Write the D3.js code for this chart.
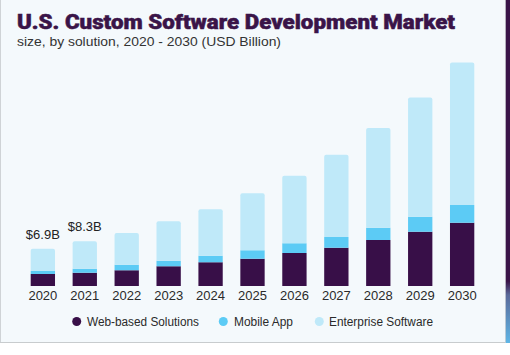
<!DOCTYPE html>
<html>
<head>
<meta charset="utf-8">
<script src="https://cdn.jsdelivr.net/npm/d3@7"></script>
<style>
  html, body { margin: 0; padding: 0; background: #ffffff; }
  svg { display: block; }
</style>
</head>
<body>
<svg id="chart" width="510" height="355"></svg>
<script>
// ---- data ----
const years = ["2020","2021","2022","2023","2024","2025","2026","2027","2028","2029","2030"];
const webBased = [2.22, 2.46, 2.90, 3.65, 4.39, 5.06, 6.10, 7.10, 8.50, 10.06, 11.70];
const mobileApp = [0.56, 0.74, 1.04, 1.04, 1.22, 1.55, 1.80, 1.98, 2.28, 2.78, 3.28];
const enterprise = [4.12, 5.10, 5.86, 7.31, 8.59, 10.56, 12.50, 15.22, 18.48, 22.06, 26.42];
const seriesNames = ["Web-based Solutions", "Mobile App", "Enterprise Software"];
const seriesColors = ["#380f48", "#5ccbf5", "#bfe9f9"];
const valueLabels = [{year: "2020", text: "$6.9B"}, {year: "2021", text: "$8.3B"}];
const titleText = "U.S. Custom Software Development Market";
const subtitleText = "size, by solution, 2020 - 2030 (USD Billion)";

// ---- build ----
const svg = d3.select("#chart");

// background panel
svg.append("rect").attr("x", 0).attr("y", 0).attr("width", 506).attr("height", 342).attr("fill", "#f4f9fc");
svg.append("line").attr("x1", 0.5).attr("x2", 0.5).attr("y1", 0).attr("y2", 342.5).attr("stroke", "#cfd3d6");
svg.append("line").attr("x1", 0).attr("x2", 506).attr("y1", 342.5).attr("y2", 342.5).attr("stroke", "#c8ccce");

// right strip
const defs = svg.append("defs");
const grad = defs.append("linearGradient").attr("id", "strip").attr("x1", 0).attr("x2", 0).attr("y1", 0).attr("y2", 1);
grad.append("stop").attr("offset", "0").attr("stop-color", "#3a1448");
grad.append("stop").attr("offset", "0.82").attr("stop-color", "#3a1448");
grad.append("stop").attr("offset", "0.86").attr("stop-color", "#5a6a9a");
grad.append("stop").attr("offset", "1").attr("stop-color", "#5fb6e6");
svg.append("rect").attr("x", 505).attr("y", 0).attr("width", 5).attr("height", 343).attr("fill", "url(#strip)");
svg.append("line").attr("x1", 505.5).attr("x2", 505.5).attr("y1", 0).attr("y2", 343).attr("stroke", "#d0d4d8").attr("stroke-width", 0.8);

// title
svg.append("text").attr("x", 17).attr("y", 28.5)
  .attr("font-family", "Roboto, 'Liberation Sans', Arial, sans-serif")
  .attr("font-weight", 900).attr("font-size", 20).attr("fill", "#3a1448")
  .attr("stroke", "#3a1448").attr("stroke-width", 0.5)
  .attr("textLength", 438).attr("lengthAdjust", "spacingAndGlyphs")
  .text(titleText);
svg.append("text").attr("x", 17).attr("y", 46)
  .attr("font-family", "'Liberation Sans', Arial, sans-serif")
  .attr("font-size", 13).attr("fill", "#333")
  .attr("textLength", 264).attr("lengthAdjust", "spacingAndGlyphs")
  .text(subtitleText);

// scales
const baseY = 286;
const x = d3.scaleBand().domain(years).range([30.7, 474.3]).paddingInner(0.42).paddingOuter(0);
const y = d3.scaleLinear().domain([0, 45]).range([baseY, baseY - 5.4 * 45]);
const color = d3.scaleOrdinal().domain(seriesNames).range(seriesColors);

const table = years.map((yr, i) => ({year: yr, [seriesNames[0]]: webBased[i], [seriesNames[1]]: mobileApp[i], [seriesNames[2]]: enterprise[i]}));
const stacked = d3.stack().keys(seriesNames)(table);

const g = svg.append("g");
stacked.forEach((layer, li) => {
  g.selectAll(null).data(layer).enter().append("path")
    .attr("fill", color(layer.key))
    .attr("d", d => {
      const x0 = x(d.data.year), w = x.bandwidth();
      const yTop = y(d[1]), yBot = y(d[0]);
      const r = li === stacked.length - 1 ? 2 : 0;
      return `M${x0},${yBot}L${x0},${yTop + r}Q${x0},${yTop} ${x0 + r},${yTop}L${x0 + w - r},${yTop}Q${x0 + w},${yTop} ${x0 + w},${yTop + r}L${x0 + w},${yBot}Z`;
    });
});

// axis
const axis = svg.append("g").attr("transform", `translate(0,${baseY})`)
  .call(d3.axisBottom(x).tickSize(0).tickPadding(5));
axis.select(".domain").remove();
axis.selectAll("text").attr("font-family", "'Liberation Sans', Arial, sans-serif").attr("font-size", 13).attr("fill", "#2a2a2a");

// value labels
const totals = years.map((yr, i) => webBased[i] + mobileApp[i] + enterprise[i]);
valueLabels.forEach(v => {
  const i = years.indexOf(v.year);
  svg.append("text").attr("x", x(v.year) + x.bandwidth() / 2).attr("y", y(totals[i]) - 10)
    .attr("text-anchor", "middle")
    .attr("font-family", "'Liberation Sans', Arial, sans-serif")
    .attr("font-size", 13).attr("fill", "#222").text(v.text);
});

// legend
const legendPos = [{cx: 76.7, tx: 87, w: 112}, {cx: 223.3, tx: 234, w: 59}, {cx: 319.3, tx: 329, w: 104}];
seriesNames.forEach((name, i) => {
  svg.append("circle").attr("cx", legendPos[i].cx).attr("cy", 321.5).attr("r", 4.5).attr("fill", seriesColors[i]);
  svg.append("text").attr("x", legendPos[i].tx).attr("y", 325.5)
    .attr("font-family", "'Liberation Sans', Arial, sans-serif")
    .attr("font-size", 12).attr("fill", "#2a2a2a")
    .attr("textLength", legendPos[i].w).attr("lengthAdjust", "spacingAndGlyphs")
    .text(name);
});
</script>
</body>
</html>
